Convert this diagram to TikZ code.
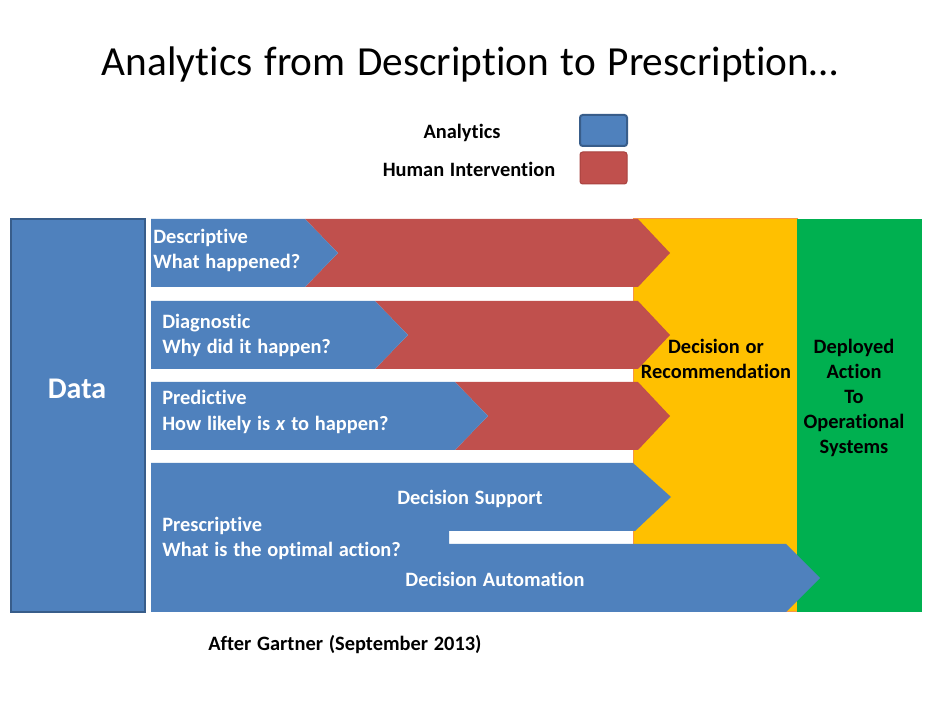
\documentclass[tikz,border=0pt]{standalone}
\usepackage{fontspec}
\setmainfont{Carlito}[Ligatures={NoCommon}, WordSpace=1.25]
\usetikzlibrary{positioning}
\definecolor{anablue}{HTML}{4F81BD}
\definecolor{anaedge}{HTML}{385D8A}
\definecolor{humred}{HTML}{C0504D}
\definecolor{humedge}{HTML}{A8423F}
\definecolor{decyellow}{HTML}{FFC000}
\definecolor{decedge}{HTML}{F79646}
\definecolor{depgreen}{HTML}{00B050}
\tikzset{
  lbl/.style={font=\fontsize{15.3pt}{18pt}\selectfont\bfseries, inner sep=0pt, text=white},
  dlbl/.style={lbl, text=black}
}

\begin{document}
\begin{tikzpicture}[x=0.75pt, y=-0.75pt]
        \useasboundingbox[fill=white] (0, 0) rectangle (940, 705);

        % title and legend
        \node[font=\fontsize{31pt}{36pt}\selectfont, anchor=base, inner sep=0pt] (title) at (470, 76) {Analytics from Description to Prescription…};
        \draw[anaedge, fill=anablue, line width=1.5pt, rounded corners=2pt] (580, 115) rectangle (627, 146);
        \draw[humedge, fill=humred, line width=0.75pt, rounded corners=2pt] (580, 152) rectangle (627, 184);
        \node[dlbl, anchor=base] (legana) at (462, 139) {Analytics};
        \node[dlbl, anchor=base] (leghum) at (469, 177) {Human Intervention};

        % columns
        \draw[anaedge, fill=anablue, line width=1.5pt] (11, 219) rectangle (145, 612);
        \draw[decedge, fill=decyellow, line width=0.75pt] (633, 219) rectangle (797, 612);
        \fill[depgreen] (797, 219) rectangle (922, 612);
        \node[lbl, font=\fontsize{22.5pt}{26pt}\selectfont\bfseries, anchor=base] (data) at (77, 399) {Data};

        % rows with human intervention
        \foreach \ytop/\xb in {219/305, 301/375, 382/455} {
            \fill[humred] (\xb, \ytop) -- (638, \ytop) -- ++(32, 34) -- ++(-32, 34) -- (\xb, \ytop+68) -- ++(33, -34) -- cycle;
            \fill[anablue] (151, \ytop) -- (\xb, \ytop) -- ++(33, 34) -- ++(-33, 34) -- (151, \ytop+68) -- cycle;
        }

        % prescriptive row
        \fill[anablue] (151, 463) -- (633, 463) -- (671, 497) -- (635, 531) -- (449, 531) -- ++(0, 13) -- (786, 544) -- (820, 578) -- (786, 612) -- (151, 612) -- cycle;

        \node[lbl, anchor=base west] (desc) at (153, 244) {Descriptive};
        \node[lbl, anchor=base west] (descq) at (153, 269) {What happened?};
        \node[lbl, anchor=base west] (diag) at (162, 329) {Diagnostic};
        \node[lbl, anchor=base west] (diagq) at (162, 354) {Why did it happen?};
        \node[lbl, anchor=base west] (pred) at (162, 405) {Predictive};
        \node[lbl, anchor=base west] (predq) at (162, 431) {How likely is \textit{x} to happen?};
        \node[lbl, anchor=base west] (presc) at (162, 532) {Prescriptive};
        \node[lbl, anchor=base west] (prescq) at (162, 557) {What is the optimal action?};
        \node[lbl, anchor=base] (support) at (470, 505) {Decision Support};
        \node[lbl, anchor=base] (automat) at (495, 587) {Decision Automation};

        \node[dlbl, anchor=base] (decis) at (716, 354) {Decision or};
        \node[dlbl, anchor=base] (recomm) at (716, 379) {Recommendation};
        \foreach \t [count=\i] in {Deployed, Action, To, Operational, Systems}
            \node[dlbl, anchor=base] (depl\i) at (854, 329+25*\i) {\t};

        \node[dlbl, anchor=base west] (source) at (208, 651) {After Gartner (September 2013)};
    \end{tikzpicture}
\end{document}
